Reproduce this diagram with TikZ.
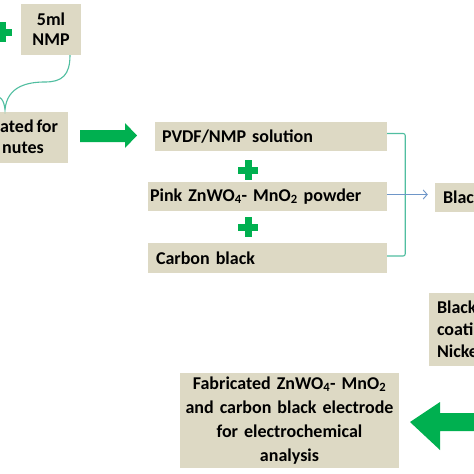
\documentclass[tikz,border=0pt]{standalone}
\usepackage{fontspec}
\setmainfont{Carlito}[WordSpace=0.7]
\usetikzlibrary{arrows.meta,calc}
\definecolor{boxfill}{RGB}{221,217,196}
\definecolor{arrgreen}{RGB}{0,176,80}
\definecolor{bracketcol}{RGB}{80,190,160}
\definecolor{bluearr}{RGB}{110,150,200}
\begin{document}
\begin{tikzpicture}[x=1pt,y=-1pt,
  box/.style={fill=boxfill, inner ysep=0pt, font=\fontsize{18}{20}\selectfont\bfseries},
  lbl/.style={inner sep=0pt, font=\fontsize{18}{20}\selectfont\bfseries},
  plusarm/.style={fill=arrgreen}]
\clip (0,0) rectangle (474,474);
\fill[white] (0,0) rectangle (474,474);

% boxes
\node[box, minimum width=60, minimum height=51, align=center, text width=50, inner xsep=5] (nmp) at (51,29.5) {5ml\\NMP};
\node[box, minimum width=88, minimum height=51] (sonic) at (24,137.5) {};
\node[lbl, anchor=base west] (sonic1) at (0,132) {ated for};
\node[lbl, anchor=base west] (sonic2) at (2,153) {nutes};

\node[box, minimum width=232, minimum height=29, text width=218, inner xsep=7, align=left] (pvdf) at (271,136.5) {PVDF/NMP solution};
\node[box, minimum width=239, minimum height=29, text width=235, inner xsep=2, align=left] (pink) at (267.5,196.5) {Pink ZnWO\textsubscript{4}- MnO\textsubscript{2} powder};
\node[box, minimum width=239, minimum height=30, text width=223, inner xsep=8, align=left] (carbon) at (267.5,258) {Carbon black};

\node[box, minimum width=65, minimum height=29, text width=49, inner xsep=8, align=left] (blac) at (467.5,197.5) {Blac};
\node[box, minimum width=71, minimum height=73, text width=55, inner xsep=8, align=left, font=\fontsize{18}{22}\selectfont\bfseries] (blackc) at (464.5,329.5) {Black\\coati\\Nicke};

\node[box, minimum width=219, minimum height=95, text width=215, inner xsep=2, align=center, font=\fontsize{18}{24}\selectfont\bfseries] (fab) at (289.5,420.5) {Fabricated ZnWO\textsubscript{4}- MnO\textsubscript{2}\\and carbon black electrode\\for electrochemical\\analysis};

% pluses
\foreach \px/\py in {2/32, 248/170, 248/227} {
  \fill[plusarm] (\px-10,\py-3.5) rectangle (\px+10,\py+3.5);
  \fill[plusarm] (\px-3.5,\py-10) rectangle (\px+3.5,\py+10);
}

% brace from NMP to sonication box
\coordinate (bstart) at ($(nmp.south)+(19,0)$);
\coordinate (cusp) at ($(sonic.north)+(-19,-2)$);
\draw[bracketcol, line width=1.1pt] (bstart) .. controls ++(0,20) and (62,82) .. (45,82)
   .. controls (28,82) and (7,86) .. (cusp)
   .. controls (4,100) and (1,96) .. (-8,94);

% big green arrows
\fill[arrgreen] (80,130) -- (125,130) -- (125,123) -- (137,135.5) -- (125,148) -- (125,142) -- (80,142) -- cycle;
\fill[arrgreen] (410,422) -- (440,402) -- (440,413) -- (480,413) -- (480,431) -- (440,431) -- (440,450) -- cycle;

% bracket
\draw[bracketcol, line width=1.1pt, rounded corners=2pt]
  ($(pvdf.east)+(0,-3)$) -| ($(carbon.east)+(18,-2)$) -- ($(carbon.east)+(0,-2)$);
\draw[bluearr, line width=0.9pt, -{Straight Barb[length=4pt,width=9pt]}, shorten >=7pt]
  ($(pink.east)+(0,-2)$) -- ($(pink.east -| blac.west)+(0,-2)$);
\end{tikzpicture}
\end{document}
